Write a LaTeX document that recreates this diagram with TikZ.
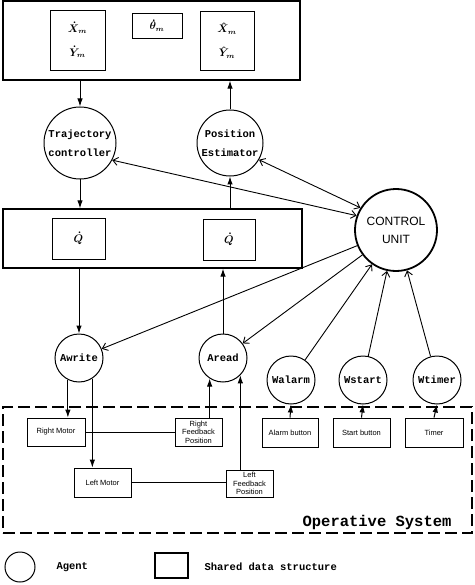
\documentclass[tikz,border=0pt]{standalone}
\usepackage{fontspec}
\newfontfamily\agentfont{Liberation Mono}
\newfontfamily\boxfont{Liberation Sans}
\usetikzlibrary{arrows.meta}

\begin{document}
\begin{tikzpicture}[x=1pt,y=-1pt,>={Latex[length=8pt,width=5.5pt]},
		agent/.style={draw,circle,line width=1pt,inner sep=0pt,align=center,font=\agentfont\bfseries\fontsize{10.5}{19}\selectfont},
		shared/.style={draw,line width=1.3pt,inner sep=0pt},
		slot/.style={draw,line width=.9pt,inner sep=0pt,align=center,font=\boldmath\fontsize{10.5}{13}\selectfont},
		device/.style={draw,line width=.8pt,inner sep=0pt,align=center,font=\boxfont\fontsize{7.5}{8.5}\selectfont},
		link/.style={line width=1pt},
		culink/.style={line width=.9pt,>={Straight Barb[length=5pt,width=8pt]}}]

		\useasboundingbox (0,0) rectangle (474,585);

		% shared data structures
		\node[shared,minimum width=297,minimum height=79] (top) at (151.5,40.5) {};
		\node[slot,minimum width=55,minimum height=60] (vel) at (77.5,40) {$\dot{X}_m$\\[11pt]$\dot{Y}_m$};
		\node[slot,minimum width=50,minimum height=25] (theta) at (157,25.5) {$\dot{\theta}_m$};
		\node[slot,minimum width=54,minimum height=59] (pos) at (227,40.5) {$\hat{X}_m$\\[11pt]$\hat{Y}_m$};

		\node[shared,minimum width=299,minimum height=59] (mid) at (152.5,238.5) {};
		\node[slot,minimum width=53,minimum height=41] (qcmd) at (78.5,238.5) {$\dot{Q}$};
		\node[slot,minimum width=52,minimum height=41] (qmes) at (229,239.5) {$\dot{Q}$};

		% agents
		\node[agent,minimum size=72] (traj) at (80,143) {Trajectory\\controller};
		\node[agent,minimum size=66] (est) at (230,143) {Position\\Estimator};
		\node[draw,circle,line width=1.8pt,minimum size=82,inner sep=0pt,align=center,font=\boxfont\fontsize{12}{18}\selectfont] (cu) at (396,230) {CONTROL\\UNIT};
		\node[agent,minimum size=48] (awrite) at (79,358) {Awrite};
		\node[agent,minimum size=48] (aread) at (223,358) {Aread};
		\foreach \n/\x/\t in {walarm/291/Walarm,wstart/363/Wstart,wtimer/437/Wtimer} { \node[agent,minimum size=48] (\n) at (\x,380) {\t};}

		% operative system
		\node[draw,line width=1.3pt,dash pattern=on 12pt off 5pt,minimum width=469,minimum height=126,inner sep=0pt] (ops) at (237.5,470) {};
		\node[anchor=east,font=\agentfont\bfseries\fontsize{15.5}{18}\selectfont] (opslabel) at (455,522) {Operative System};
		\node[device,minimum width=58,minimum height=28] (rm) at (56,432) {Right Motor};
		\node[device,minimum width=47,minimum height=28] (rfb) at (198.5,432) {Right\\Feedback\\Position};
		\node[device,minimum width=57,minimum height=29] (lm) at (102.5,482.5) {Left Motor};
		\node[device,minimum width=47,minimum height=27] (lfb) at (249.5,483.5) {Left\\Feedback\\Position};
		\foreach \n/\x/\w/\t in {alarm/290/56/Alarm button,start/361.5/57/Start button,timer/434/58/Timer} { \node[device,minimum width=\w,minimum height=29] (\n) at (\x,432.5) {\t};}

		% connectors
		\draw[link,->] (top.south -| traj) -- (traj);
		\draw[link,->] (est) -- (est |- top.south);
		\draw[link,->] (traj) -- (traj |- mid.north);
		\draw[link,->] (est |- mid.north) -- (est);
		\draw[link,->] (awrite |- mid.south) -- (awrite);
		\draw[link,->] (aread) -- (aread |- mid.south);

		\draw[culink,<->] (traj.-28) -- (cu.160);
		\draw[culink,<->] (est.-30) -- (cu.148);
		\draw[culink,->] (cu) -- (awrite);
		\draw[culink,->] (cu) -- (aread);
		\foreach \n in {walarm,wstart,wtimer} { \draw[culink,->] (\n) -- (cu);}

		\draw[link,->] (awrite.-117) -- (awrite.-117 |- rm.north);
		\draw[link,->] (awrite.-57) -- (awrite.-57 |- lm.north);
		\draw[link,->] (aread.-123 |- rfb.north) -- (aread.-123);
		\draw[link,->] (aread.-45 |- lfb.north) -- (aread.-45);
		\draw[link] (rm) -- (rfb);
		\draw[link] (lm.east) -- (lm.east -| lfb.west);
		\draw[link,->] (alarm.north) -- (walarm.south);
		\draw[link,->] (start.north) -- (wstart.south);
		\draw[link,->] (timer.north) -- (wtimer.south);

		% legend
		\node[draw,circle,line width=1pt,minimum size=30,inner sep=0pt] (keyagent) at (20,567) {};
		\node[anchor=west,font=\agentfont\bfseries\fontsize{10.5}{12}\selectfont] (keyagenttext) at (53,567) {Agent};
		\node[shared,minimum width=33,minimum height=25] (keyshared) at (171.5,565.5) {};
		\node[anchor=west,font=\agentfont\bfseries\fontsize{10.5}{12}\selectfont] (keysharedtext) at (201,567) {Shared data structure};
	\end{tikzpicture}
\end{document}
